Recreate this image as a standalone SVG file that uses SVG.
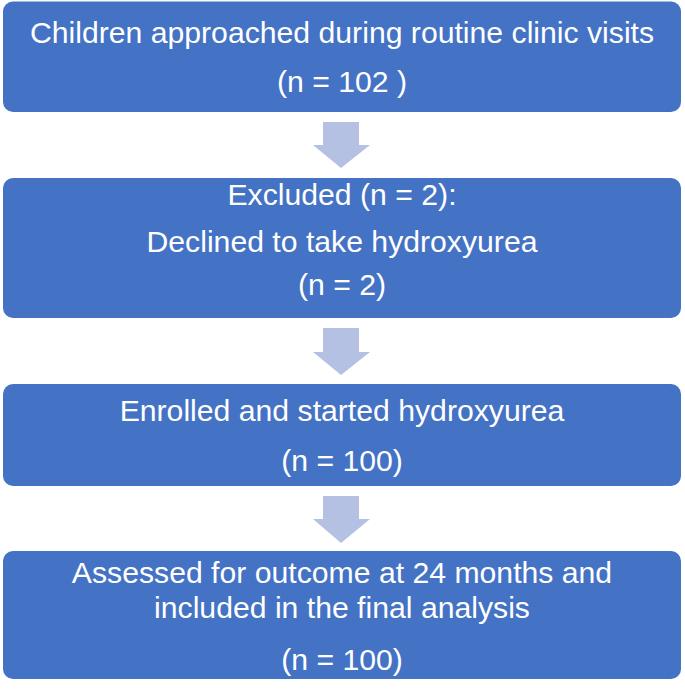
<svg xmlns="http://www.w3.org/2000/svg" width="685" height="691" viewBox="0 0 685 691">
<style>
.box{fill:#4472C4}
.t{font-family:"Liberation Sans","Open Sans",sans-serif;font-size:30.2px;fill:#fff;text-anchor:middle}
.arr{fill:#B4C1E3}
</style>
<rect width="685" height="691" fill="#fff"/>
<g id="connectors">
<polygon class="arr" points="323,122 359,122 359,145 370,145 341,168 313,145 323,145"/>
<polygon class="arr" points="323,328 359,328 359,352 370,352 341,375 313,352 323,352"/>
<polygon class="arr" points="323,496 359,496 359,519 370,519 341,543 313,519 323,519"/>
</g>
<g id="n1">
<rect class="box" x="3" y="1.5" width="678" height="110.5" rx="10"/>
<text class="t" x="342" y="43">Children approached during routine clinic visits</text>
<text class="t" x="342" y="92">(n = 102 )</text>
</g>
<g id="n2">
<rect class="box" x="3" y="178" width="678" height="140" rx="10"/>
<text class="t" x="342" y="205">Excluded (n = 2):</text>
<text class="t" x="342" y="252">Declined to take hydroxyurea</text>
<text class="t" x="342" y="295">(n = 2)</text>
</g>
<g id="n3">
<rect class="box" x="3" y="384" width="678" height="102" rx="10"/>
<text class="t" x="342" y="421">Enrolled and started hydroxyurea</text>
<text class="t" x="342" y="471">(n = 100)</text>
</g>
<g id="n4">
<rect class="box" x="3" y="551" width="678" height="128" rx="10"/>
<text class="t" x="342" y="583">Assessed for outcome at 24 months and</text>
<text class="t" x="342" y="618">included in the final analysis</text>
<text class="t" x="342" y="670">(n = 100)</text>
</g>
</svg>
